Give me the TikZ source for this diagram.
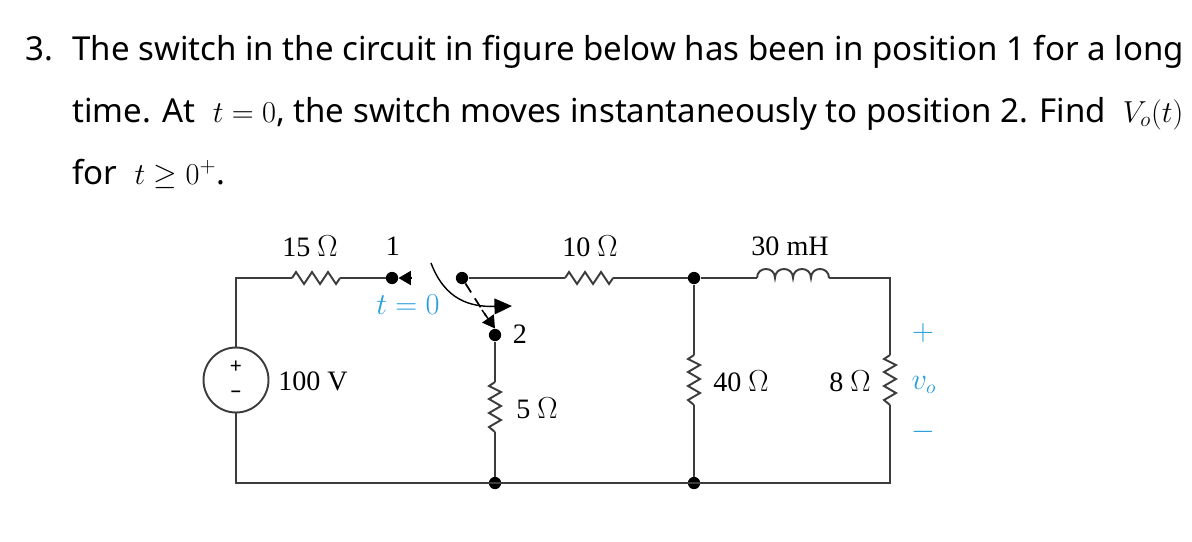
\documentclass[tikz,border=0pt]{standalone}
\usepackage{fontspec}
\setmainfont{Noto Sans}
\newfontfamily\serifl{Liberation Serif}
\usetikzlibrary{arrows.meta}
\definecolor{blu}{RGB}{40,160,220}
\definecolor{wire}{RGB}{60,60,60}
\begin{document}
\begin{tikzpicture}[x=0.02cm,y=-0.02cm,
  w/.style={draw=wire,line width=1.1pt},
  dot/.style={circle,fill=black,inner sep=0pt,minimum size=7pt},
  lab/.style={font=\serifl\fontsize{16}{16}\selectfont,inner sep=0pt},
  blab/.style={lab,text=blu},
  txt/.style={font=\fontsize{18.8}{18.8}\selectfont,anchor=base west,inner sep=0pt},
  pics/hres/.style={code={\draw[w] (0,0) -- (4,-6) -- (12,6) -- (20,-6) -- (28,6) -- (36,-6) -- (44,6) -- (48,0);}},
  pics/vres/.style={code={\draw[w] (0,0) -- (-6,4) -- (6,10) -- (-6,17) -- (6,24) -- (-6,31) -- (6,38) -- (-6,45) -- (0,50);}},
  pics/ind/.style={code={\draw[w] (0,0) .. controls +(0,-12) and +(0,-12) .. (18,0) .. controls +(0,-12) and +(0,-12) .. (36,0) .. controls +(0,-12) and +(0,-12) .. (54,0) .. controls +(0,-12) and +(0,-12) .. (72,0);}}]
\useasboundingbox (0,0) rectangle (1192,541);
% text
\node[txt] (q3) at (25,60) {3.};
\node[txt] (l1) at (72,60) {The switch in the circuit in figure below has been in position 1 for a long};
\node[txt] (l2) at (72,122) {time. At \ $t=0$, the switch moves instantaneously to position 2. Find \ $V_o(t)$};
\node[txt] (l3) at (72,184) {for \ $t\geq 0^{+}$.};
% coordinates
\coordinate (tl) at (236,278); \coordinate (bl) at (236,483);
\coordinate (r15a) at (292,278); \coordinate (r15b) at (340,278);
\node[dot] (n1) at (392,278) {};
\node[dot] (piv) at (462,278) {};
\node[dot] (n2) at (495,335) {};
\coordinate (r5a) at (495,382); \coordinate (r5b) at (495,432);
\node[dot] (b5) at (495,483) {};
\coordinate (r10a) at (565,278); \coordinate (r10b) at (613,278);
\node[dot] (t40) at (694,278) {};
\coordinate (r40a) at (694,355); \coordinate (r40b) at (694,405);
\node[dot] (b40) at (694,483) {};
\coordinate (la) at (757,278); \coordinate (lb) at (829,278);
\coordinate (tr) at (890,278); \coordinate (br) at (890,483);
\coordinate (r8a) at (890,355); \coordinate (r8b) at (890,405);
% source
\node[circle,draw=wire,line width=1.1pt,minimum size=1.3cm,inner sep=0pt] (src) at (236,380) {};
\node[font=\fontsize{12}{12}\selectfont,inner sep=0pt] (sp) at (236,367) {+};
\node[font=\fontsize{12}{12}\selectfont,inner sep=0pt] (sm) at (236,394) {--};
% wires
\draw[w] (src.north) -- (tl) -- (r15a);
\draw[w] (r15b) -- (n1);
\draw[w] (src.south) -- (bl) -- (br) -- (r8b);
\draw[w] (r8a) -- (tr) -- (lb);
\draw[w] (piv) -- (r10a); \draw[w] (r10b) -- (t40) -- (la);
\draw[w] (t40) -- (r40a); \draw[w] (r40b) -- (b40);
\draw[w] (n2) -- (r5a); \draw[w] (r5b) -- (b5);
\pic at (r15a) {hres}; \pic at (r10a) {hres};
\pic at (r5a) {vres}; \pic at (r40a) {vres};
\pic at (r8a) {vres}; \pic at (la) {ind};
% switch
\draw[-{Triangle[length=7pt,width=8pt]},line width=0.8pt] (412,278) -- (n1.east);
\draw[dashed,line width=1pt,dash pattern=on 6pt off 4pt] (piv) -- (486,316);
\draw[-{Triangle[length=7pt,width=8pt]},line width=0.8pt] (482,310) -- (n2.north);
\draw[-{Triangle[length=10pt,width=9pt]},line width=0.8pt] (431,263) .. controls (445,300) and (470,307) .. (512,306);
% labels
\node[lab] (l15) at (310,246) {15 $\Omega$};
\node[lab] (l1n) at (393,246) {1};
\node[blab] (lt0) at (408,305) {$t=0$};
\node[lab] (l2n) at (520,334) {2};
\node[lab] (l5) at (537,408) {5 $\Omega$};
\node[lab] (l10) at (590,246) {10 $\Omega$};
\node[lab] (l30) at (790,246) {30 mH};
\node[lab] (l40) at (741,381) {40 $\Omega$};
\node[lab] (l8) at (850,381) {8 $\Omega$};
\node[lab] (lv) at (313,381) {100 V};
\node[blab] (vo) at (924,385) {$v_o$};
\node[blab] (vp) at (923,333) {$+$};
\node[blab] (vm) at (923,432) {$-$};
\end{tikzpicture}
\end{document}
